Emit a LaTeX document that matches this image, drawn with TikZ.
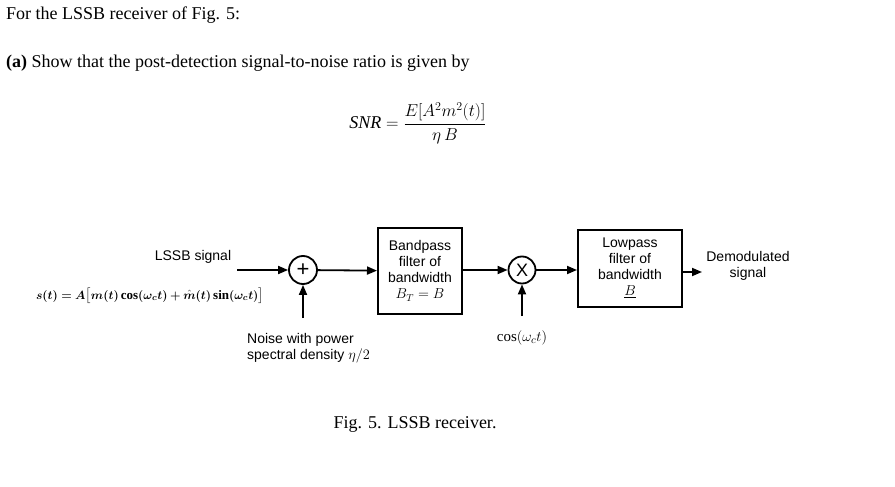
\documentclass[tikz,border=0pt]{standalone}
\usepackage{amsmath,amssymb,bm}
\usepackage{fontspec}
\setmainfont{Liberation Serif}
\newfontfamily\lsans{Liberation Sans}
\usetikzlibrary{arrows.meta}
\begin{document}
\begin{tikzpicture}[x=1pt,y=-1pt,
  lab/.style={font=\lsans\fontsize{14}{16}\selectfont,align=center,inner sep=0},
  blk/.style={draw,line width=2pt,lab,inner sep=1},
  circ/.style={draw,circle,line width=1.8pt,minimum size=28,inner sep=0,font=\lsans\fontsize{22}{22}\selectfont},
  arr/.style={-{Triangle[length=10pt,width=8pt]},line width=1.8pt}]
\useasboundingbox (0,0) rectangle (895,487);
\node[anchor=base west,inner sep=0,font=\fontsize{18}{20}\selectfont] (t1) at (6,20) {For the LSSB receiver of Fig. 5:};
\node[anchor=base west,inner sep=0,font=\fontsize{18}{20}\selectfont] (t2) at (6,67) {\textbf{(a)} Show that the post-detection signal-to-noise ratio is given by};
\node[inner sep=0,font=\fontsize{18}{20}\selectfont] (snr) at (418,123) {$\mathit{SNR}=\dfrac{E[A^2m^2(t)]}{\eta\,B}$};
\node[circ] (sum) at (303,270) {+};
\node[blk,minimum width=84,minimum height=86] (bp) at (420,271) {Bandpass\\filter of\\bandwidth\\$B_T=B$};
\node[circ,minimum size=27,font=\lsans\fontsize{18}{18}\selectfont] (mul) at (522,270) {X};
\node[blk,minimum width=104,minimum height=77] (lp) at (630,268) {Lowpass\\filter of\\bandwidth\\\underline{$B$}};
\node[lab] (ls) at (193,257) {LSSB signal};
\coordinate (lsin) at (237,270);
\node[inner sep=0,font=\fontsize{13}{14}\selectfont] (st) at (150,296) {$\bm{s(t)=A\big[m(t)\cos(\omega_c t)+\hat m(t)\sin(\omega_c t)\big]}$};
\coordinate (nz) at (303,318);
\node[lab,align=left,anchor=north west] (nt) at (247,333) {Noise with power\\spectral density $\eta/2$};
\coordinate (cz) at (522,316);
\node[inner sep=0,font=\fontsize{15}{17}\selectfont] (ct) at (522,338) {$\cos(\omega_c t)$};
\coordinate (out) at (702,272);
\node[lab] (dm) at (748,266) {Demodulated\\signal};
\node[inner sep=0,font=\fontsize{18}{20}\selectfont] (cap) at (415,424) {Fig. 5. LSSB receiver.};
\draw[arr] (lsin) -- (sum);
\draw[arr] (nz) -- (sum);
\draw[arr] (sum) -- (bp);
\draw[arr] (bp.east|-mul) -- (mul);
\draw[arr] (cz) -- (mul);
\draw[arr] (mul) -- (lp.west|-mul);
\draw[arr] (lp.east|-out) -- (out);
\end{tikzpicture}
\end{document}
